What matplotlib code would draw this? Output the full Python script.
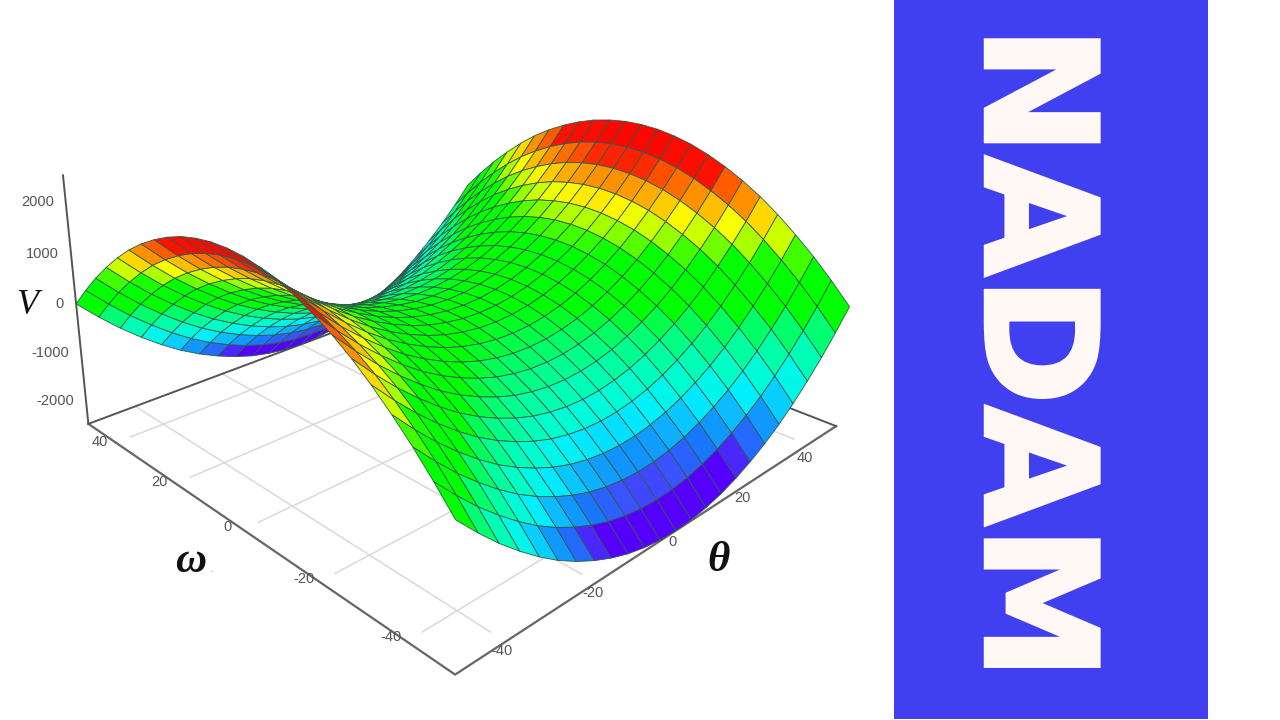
import numpy as np
import matplotlib
matplotlib.use('Agg')
import matplotlib.pyplot as plt
import matplotlib.patheffects as pe
from matplotlib.colors import LinearSegmentedColormap
from matplotlib.patches import Rectangle
from matplotlib.transforms import offset_copy

# surface nodes and the two edge profiles
theta_nodes = [-50,-45.8,-41.7,-37.5,-33.3,-29.2,-25,-20.8,-16.7,-12.5,-8.3,-4.2,0,4.2,8.3,12.5,16.7,20.8,25,29.2,33.3,37.5,41.7,45.8,50]
omega_nodes = [-50,-45.8,-41.7,-37.5,-33.3,-29.2,-25,-20.8,-16.7,-12.5,-8.3,-4.2,0,4.2,8.3,12.5,16.7,20.8,25,29.2,33.3,37.5,41.7,45.8,50]
theta_rise = [2500,2100,1740,1410,1110,850,625,435,280,155,70,17,0,17,70,155,280,435,625,850,1110,1410,1740,2100,2500]
omega_drop = [2500,2100,1740,1410,1110,850,625,435,280,155,70,17,0,17,70,155,280,435,625,850,1110,1410,1740,2100,2500]

theta_ticks = [-40,-20,0,20,40]
omega_ticks = [-40,-20,0,20,40]
v_ticks = [-2000,-1000,0,1000,2000]

# colour by height of the cell
color_levels = [-2500,-2000,-1900,-1670,-1450,-1200,-870,-560,-240,0,600,950,1200,1450,1650,1800,1950,2500]
color_values = ['#5500ff','#5500ff','#3c50ff','#1080ff','#10b0ff','#00eeff','#00ffcc','#00ff99','#00ff55',
                '#00ff00','#00ff00','#aaff00','#ffff00','#ffb000','#ff8000','#ff5500','#ff1000','#ff0000']

fig = plt.figure(figsize=(12.8,7.2),dpi=100)
ax = fig.add_subplot(111,projection='3d')
# the reference is a little stretched, so keep the non square box
ax.apply_aspect = lambda position=None: None
ax.set_xlim(-50,50,view_margin=0)
ax.set_ylim(-50,50,view_margin=0)
ax.set_zlim(-2500,2500,view_margin=0)
ax.set_proj_type('persp',focal_length=0.301)
ax.view_init(elev=21.275,azim=-134.823,roll=-0.323)
ax.set_box_aspect((1,0.981,0.438))
ax.set_position([(452.891-786.655/2)/1280,(720-316.955-864.594/2)/720,786.655/1280,864.594/720])
ax.set_axis_off()
ax.patch.set_visible(False)
ax.computed_zorder = False

X, Y = np.meshgrid(theta_nodes, omega_nodes)
V = np.array(theta_rise)[None,:] - np.array(omega_drop)[:,None]

# floor grid and box edges
floor = -2500
grid_c = '#d9d9d9'
for t in theta_ticks:
    ax.plot([t,t],[-47,50],[floor,floor],color=grid_c,lw=1.1,zorder=1,clip_on=False)
for w in omega_ticks:
    ax.plot([-47,50],[w,w],[floor,floor],color=grid_c,lw=1.1,zorder=1,clip_on=False)
ax.plot([-50,-50,50],[50,-50,-50],[floor,floor,floor],color='#666666',lw=1.6,zorder=2,clip_on=False)
ax.plot([-50,50,50],[50,50,-50],[floor,floor,floor],color='#555555',lw=1.4,zorder=2,clip_on=False)
ax.plot([-50,-50],[50,50],[floor,2500],color='#555555',lw=1.4,zorder=2,clip_on=False)

# surface
cmap = LinearSegmentedColormap.from_list('saddle',[((v+2500)/5000,c) for v,c in zip(color_levels,color_values)])
cell = (V[:-1,:-1]+V[1:,:-1]+V[:-1,1:]+V[1:,1:])/4
surf = ax.plot_surface(X,Y,V,rstride=1,cstride=1,facecolors=cmap((cell+2500)/5000),shade=False,
                       edgecolor='#2f5a48',linewidth=0.6,zorder=3)
surf.set_clip_on(False)

# tick labels
tick_kw = dict(fontsize=10.5,color='#555555',family='Liberation Sans',ha='center',va='center',zorder=5,clip_on=False)
tr = offset_copy(ax.transData,fig=fig,x=-31,y=-5,units='dots')
for w in omega_ticks:
    ax.text(-47,w,floor,str(w),transform=tr,**tick_kw)
tr = offset_copy(ax.transData,fig=fig,x=11,y=-19,units='dots')
for t in theta_ticks:
    ax.text(t,-47,floor,str(t),transform=tr,**tick_kw)
tr = offset_copy(ax.transData,fig=fig,x=-12,y=0,units='dots')
kw = dict(tick_kw)
kw['ha'] = 'right'
for z in v_ticks:
    ax.text(-50,50,z,str(z),transform=tr,**kw)

# axis names
serif = 'Liberation Serif'
fig.text(27/1280,1-305/720,'V',family=serif,style='italic',fontsize=26,ha='center',va='center',color='#111111')
fig.text(719/1280,1-561/720,'θ',family=serif,style='italic',weight='bold',fontsize=31,ha='center',va='center',color='#111111')
fig.text(191/1280,1-562/720,'ω',family=serif,style='italic',weight='bold',fontsize=31,ha='center',va='center',color='#111111')
fig.text(212/1280,1-569/720,'.',family=serif,fontsize=7,ha='center',va='center',color='#999999')

# title band
fig.add_artist(Rectangle((894/1280,1/720),314/1280,719/720,transform=fig.transFigure,facecolor='#4040f0',edgecolor='none'))
fig.text(1028.5/1280,1-353/720,'NADAM',rotation=-90,fontsize=112,weight='bold',family='DejaVu Sans',color='#fff8f5',ha='center',va='center',
         path_effects=[pe.withStroke(linewidth=2.5,foreground='#fff8f5',joinstyle='miter')])

fig.savefig('out.png',dpi=100)
